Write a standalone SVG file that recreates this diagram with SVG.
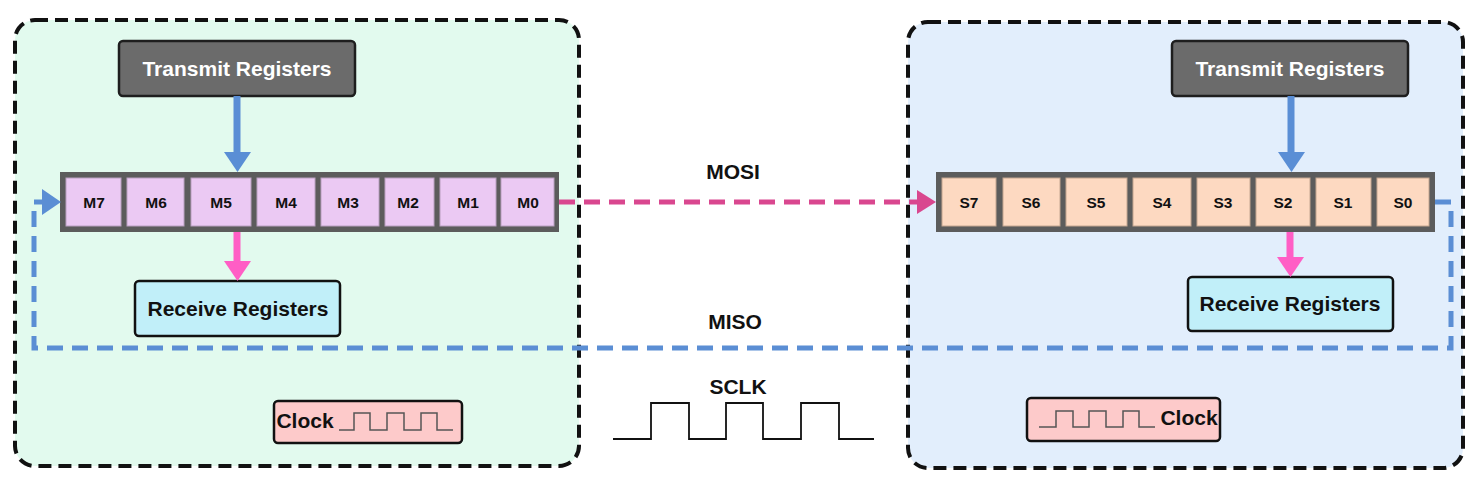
<svg xmlns="http://www.w3.org/2000/svg" width="1470" height="480" viewBox="0 0 1470 480">
<style>
.cont{stroke:#111;stroke-width:4;stroke-dasharray:13 7}
.tx{fill:#6b6b6b;stroke:#1e1e1e;stroke-width:2.5}
.rx{fill:#c1eff9;stroke:#111;stroke-width:2.5}
.clk{fill:#fdcaca;stroke:#111;stroke-width:2.5}
.reg{fill:#5c5c5c}
.mc{fill:#ebc9f3;stroke:#b9a0c0;stroke-width:1}
.sc{fill:#fdd9c1;stroke:#c4a690;stroke-width:1}
.lbl{font-family:"Liberation Sans",Arial,sans-serif;font-weight:bold;text-anchor:middle}
.wt{fill:#fff;font-size:21px}
.bt{fill:#111;font-size:21px}
.ct{fill:#111;font-size:15.5px}
.sig{fill:#111;font-size:21px}
.ck{fill:#111;font-size:21px}
.wave{fill:none;stroke:#555;stroke-width:1.5}
.sclk{fill:none;stroke:#111;stroke-width:1.8}
</style>
<rect x="0" y="0" width="1470" height="480" fill="#ffffff"/>

<g id="master">
<rect class="cont" x="15" y="20" width="564" height="446" rx="20" fill="#e2faee"/>
</g>
<g id="slave">
<rect class="cont" x="908" y="22" width="555" height="446" rx="20" fill="#e2eefc"/>
</g>

<g id="m-transmit">
<rect class="tx" x="119" y="41" width="236" height="55" rx="4"/>
<text class="lbl wt" x="237" y="76">Transmit Registers</text>
</g>
<g id="m-shift">
<rect class="reg" x="60" y="172" width="499" height="60"/>
<rect class="mc" x="66" y="178" width="55" height="48"/>
<rect class="mc" x="127" y="178" width="57" height="48"/>
<rect class="mc" x="191" y="178" width="60" height="48"/>
<rect class="mc" x="257" y="178" width="58" height="48"/>
<rect class="mc" x="321" y="178" width="58" height="48"/>
<rect class="mc" x="385" y="178" width="49" height="48"/>
<rect class="mc" x="440" y="178" width="56" height="48"/>
<rect class="mc" x="501" y="178" width="53" height="48"/>
<text class="lbl ct" x="94" y="208">M7</text>
<text class="lbl ct" x="156" y="208">M6</text>
<text class="lbl ct" x="221" y="208">M5</text>
<text class="lbl ct" x="286" y="208">M4</text>
<text class="lbl ct" x="348" y="208">M3</text>
<text class="lbl ct" x="408" y="208">M2</text>
<text class="lbl ct" x="468" y="208">M1</text>
<text class="lbl ct" x="528" y="208">M0</text>
</g>
<g id="m-receive">
<rect class="rx" x="135" y="281" width="205" height="55" rx="4"/>
<text class="lbl bt" x="238" y="316">Receive Registers</text>
</g>
<g id="m-clock">
<rect class="clk" x="274" y="401" width="188" height="42" rx="4"/>
<text class="lbl ck" x="305" y="428">Clock</text>
<path class="wave" d="M339,430 H354 V413 H370 V430 H387 V413 H404 V430 H421 V413 H437 V430 H453"/>
</g>

<g id="s-transmit">
<rect class="tx" x="1172" y="41" width="236" height="55" rx="4"/>
<text class="lbl wt" x="1290" y="76">Transmit Registers</text>
</g>
<g id="s-shift">
<rect class="reg" x="936" y="172" width="499" height="60"/>
<rect class="sc" x="942" y="178" width="54" height="48"/>
<rect class="sc" x="1003" y="178" width="57" height="48"/>
<rect class="sc" x="1066" y="178" width="61" height="48"/>
<rect class="sc" x="1133" y="178" width="58" height="48"/>
<rect class="sc" x="1197" y="178" width="53" height="48"/>
<rect class="sc" x="1256" y="178" width="54" height="48"/>
<rect class="sc" x="1316" y="178" width="55" height="48"/>
<rect class="sc" x="1377" y="178" width="52" height="48"/>
<text class="lbl ct" x="969" y="208">S7</text>
<text class="lbl ct" x="1031" y="208">S6</text>
<text class="lbl ct" x="1096" y="208">S5</text>
<text class="lbl ct" x="1162" y="208">S4</text>
<text class="lbl ct" x="1223" y="208">S3</text>
<text class="lbl ct" x="1283" y="208">S2</text>
<text class="lbl ct" x="1343" y="208">S1</text>
<text class="lbl ct" x="1403" y="208">S0</text>
</g>
<g id="s-receive">
<rect class="rx" x="1188" y="277" width="205" height="54" rx="4"/>
<text class="lbl bt" x="1290" y="311">Receive Registers</text>
</g>
<g id="s-clock">
<rect class="clk" x="1027" y="398" width="193" height="43" rx="4"/>
<text class="lbl ck" x="1189" y="425">Clock</text>
<path class="wave" d="M1039,427 H1056 V411 H1073 V427 H1089 V411 H1106 V427 H1123 V411 H1139 V427 H1155"/>
</g>

<g id="labels">
<text class="lbl sig" x="733" y="179">MOSI</text>
<text class="lbl sig" x="735" y="329">MISO</text>
<text class="lbl sig" x="738" y="394">SCLK</text>
<path class="sclk" d="M613,439 H651 V403 H689 V439 H726 V403 H763 V439 H801 V403 H839 V439 H874"/>
</g>

<g id="connectors">
<line x1="237" y1="96" x2="237" y2="155" stroke="#5a8ed5" stroke-width="7"/>
<path d="M224,152 L251,152 L237.5,172 Z" fill="#5a8ed5"/>
<line x1="1291" y1="96" x2="1291" y2="155" stroke="#5a8ed5" stroke-width="7"/>
<path d="M1278,152 L1305,152 L1291.5,172 Z" fill="#5a8ed5"/>
<line x1="237" y1="232" x2="237" y2="263" stroke="#ff5ec5" stroke-width="7"/>
<path d="M224,261 L251,261 L237.5,281 Z" fill="#ff5ec5"/>
<line x1="1290" y1="232" x2="1290" y2="259" stroke="#ff5ec5" stroke-width="7"/>
<path d="M1277,257 L1304,257 L1290.5,277 Z" fill="#ff5ec5"/>
<line x1="559" y1="202" x2="920" y2="202" stroke="#d9478f" stroke-width="5" stroke-dasharray="16 9"/>
<path d="M917,190 L936,202 L917,214 Z" fill="#d9478f"/>
<path d="M1435,202 H1451 V348 H34 V202 H45" fill="none" stroke="#5b8ed4" stroke-width="5" stroke-dasharray="16 9"/>
<path d="M42,189 L61,202 L42,215 Z" fill="#5b8ed4"/>
</g>
</svg>
